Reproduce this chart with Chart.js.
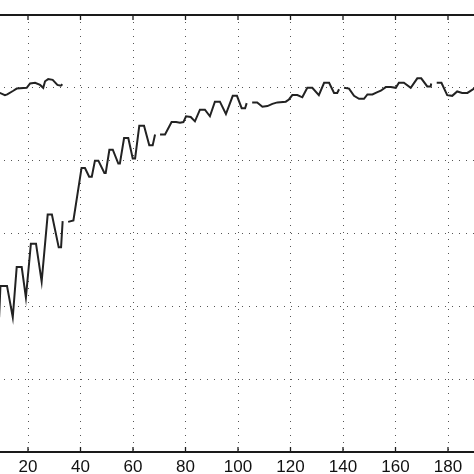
<!DOCTYPE html>
<html>
<head>
<meta charset="utf-8">
<script src="https://cdn.jsdelivr.net/npm/chart.js@4.4.1/dist/chart.umd.min.js"></script>
<style>
  html, body { margin: 0; padding: 0; background: #fff; overflow: hidden; }
  #wrap { position: absolute; left: -40px; top: 0; width: 560px; height: 474px; }
</style>
</head>
<body>
<div id="wrap"><canvas id="chart"></canvas></div>
<script>
// axis settings
const xMin = 0, xMax = 200, xStep = 20;
const yMin = 0, yMax = 6, yStep = 1;

// short upper trace (left part)
const upperX = [7, 9.3, 11.2, 12.1, 14.4, 15.7, 19.5, 20.8, 22.7, 24.6, 25.8, 26.5, 27.7, 29.4, 31.2, 32.5, 33.1];
const upperY = [4.93, 4.93, 4.90, 4.91, 4.96, 4.99, 5.0, 5.06, 5.07, 5.04, 5.0, 5.09, 5.12, 5.11, 5.04, 5.03, 5.05];

// rising trace, null = gap
const lowerX = [9.0, 9.5, 12.0, 14.2, 15.7, 17.6, 19.2, 21.1, 23.05, 25.2, 27.5, 29.1, 31.7, 32.6, 33.2, 34.2,
  35.3, 37.3, 40.4, 41.7, 43.3, 44.3, 45.5, 46.8, 49.1, 49.6, 51.0, 52.3, 54.4, 55.0, 56.6, 58.2, 59.9, 60.8, 62.4, 64.2, 66.2, 67.5, 68.4, 69.3,
  70.3, 72.2, 74.7, 76.4, 77.9, 79.2, 80.2, 82.0, 83.6, 85.5, 87.4, 89.3, 91.2, 93.1, 95.4, 98.0, 99.6, 101.4, 102.7, 103.3, 104.4,
  105.4, 107.3, 109.3, 111.2, 113.1, 115.0, 118.2, 119.4, 120.7, 122.6, 124.5, 126.4, 128.3, 130.8, 132.8, 134.7, 136.6, 137.8, 138.5, 139.5,
  140.4, 142.3, 144.2, 146.1, 148.0, 149.3, 151.2, 153.1, 154.4, 156.3, 158.2, 160.1, 161.3, 163.2, 165.8, 168.3, 169.8, 172.1, 173.4, 173.6, 174.6,
  175.7, 177.5, 179.7, 181.6, 183.5, 185.4, 187.4, 189.9, 191];
const lowerY = [1.85, 2.28, 2.28, 1.85, 2.54, 2.54, 2.12, 2.86, 2.86, 2.34, 3.26, 3.26, 2.81, 2.81, 3.17, null,
  3.16, 3.18, 3.90, 3.90, 3.78, 3.78, 4.00, 4.00, 3.83, 3.83, 4.15, 4.15, 3.96, 3.96, 4.31, 4.31, 4.03, 4.03, 4.48, 4.48, 4.21, 4.21, 4.36, null,
  4.36, 4.36, 4.53, 4.53, 4.52, 4.53, 4.61, 4.60, 4.54, 4.70, 4.70, 4.61, 4.81, 4.81, 4.64, 4.89, 4.89, 4.72, 4.72, 4.79, null,
  4.80, 4.80, 4.74, 4.75, 4.78, 4.80, 4.81, 4.84, 4.90, 4.90, 4.87, 5.00, 5.00, 4.90, 5.07, 5.07, 4.93, 4.93, 4.98, null,
  5.00, 4.99, 4.89, 4.85, 4.85, 4.91, 4.91, 4.94, 4.96, 5.01, 5.01, 5.00, 5.07, 5.07, 5.00, 5.13, 5.13, 5.02, 5.02, 5.06, null,
  5.07, 5.07, 4.90, 4.89, 4.95, 4.93, 4.93, 4.99, 5.00];

function toPoints(xs, ys) {
  return xs.map((x, i) => ({ x: x, y: ys[i] }));
}

// box round the plot + inward ticks, matlab style
const frame = {
  id: 'frame',
  afterDatasetsDraw(chart) {
    const { ctx, chartArea: a, scales: { x } } = chart;
    ctx.save();
    ctx.strokeStyle = '#1a1a1a';
    ctx.lineWidth = 1.3;
    x.ticks.forEach(t => {
      const px = x.getPixelForValue(t.value);
      ctx.beginPath();
      ctx.moveTo(px, a.bottom); ctx.lineTo(px, a.bottom - 5);
      ctx.moveTo(px, a.top); ctx.lineTo(px, a.top + 5);
      ctx.stroke();
    });
    ctx.lineWidth = 2;
    ctx.strokeRect(a.left, a.top, a.right - a.left, a.bottom - a.top);
    ctx.restore();
  }
};

const lineStyle = { borderColor: '#222', borderWidth: 2, pointRadius: 0, tension: 0, spanGaps: false, fill: false };

new Chart(document.getElementById('chart'), {
  type: 'line',
  data: {
    datasets: [
      Object.assign({ data: toPoints(upperX, upperY) }, lineStyle),
      Object.assign({ data: toPoints(lowerX, lowerY) }, lineStyle)
    ]
  },
  options: {
    animation: false,
    responsive: true,
    maintainAspectRatio: false,
    layout: { padding: { left: 15.5, right: 19.5, top: 15, bottom: 0 } },
    plugins: { legend: { display: false }, tooltip: { enabled: false } },
    scales: {
      x: {
        type: 'linear', min: xMin, max: xMax,
        ticks: { stepSize: xStep, color: '#111', padding: 5, maxRotation: 0,
                 font: { family: 'Liberation Sans, Arial, sans-serif', size: 17 } },
        grid: { color: '#555', lineWidth: 1, drawTicks: false },
        border: { display: false, dash: [1, 6] },
        afterFit: s => { s.height = 22; }
      },
      y: {
        min: yMin, max: yMax,
        ticks: { stepSize: yStep, display: false },
        grid: { color: '#555', lineWidth: 1, drawTicks: false },
        border: { display: false, dash: [1, 6] },
        afterFit: s => { s.width = 0; }
      }
    }
  },
  plugins: [frame]
});
</script>
</body>
</html>
